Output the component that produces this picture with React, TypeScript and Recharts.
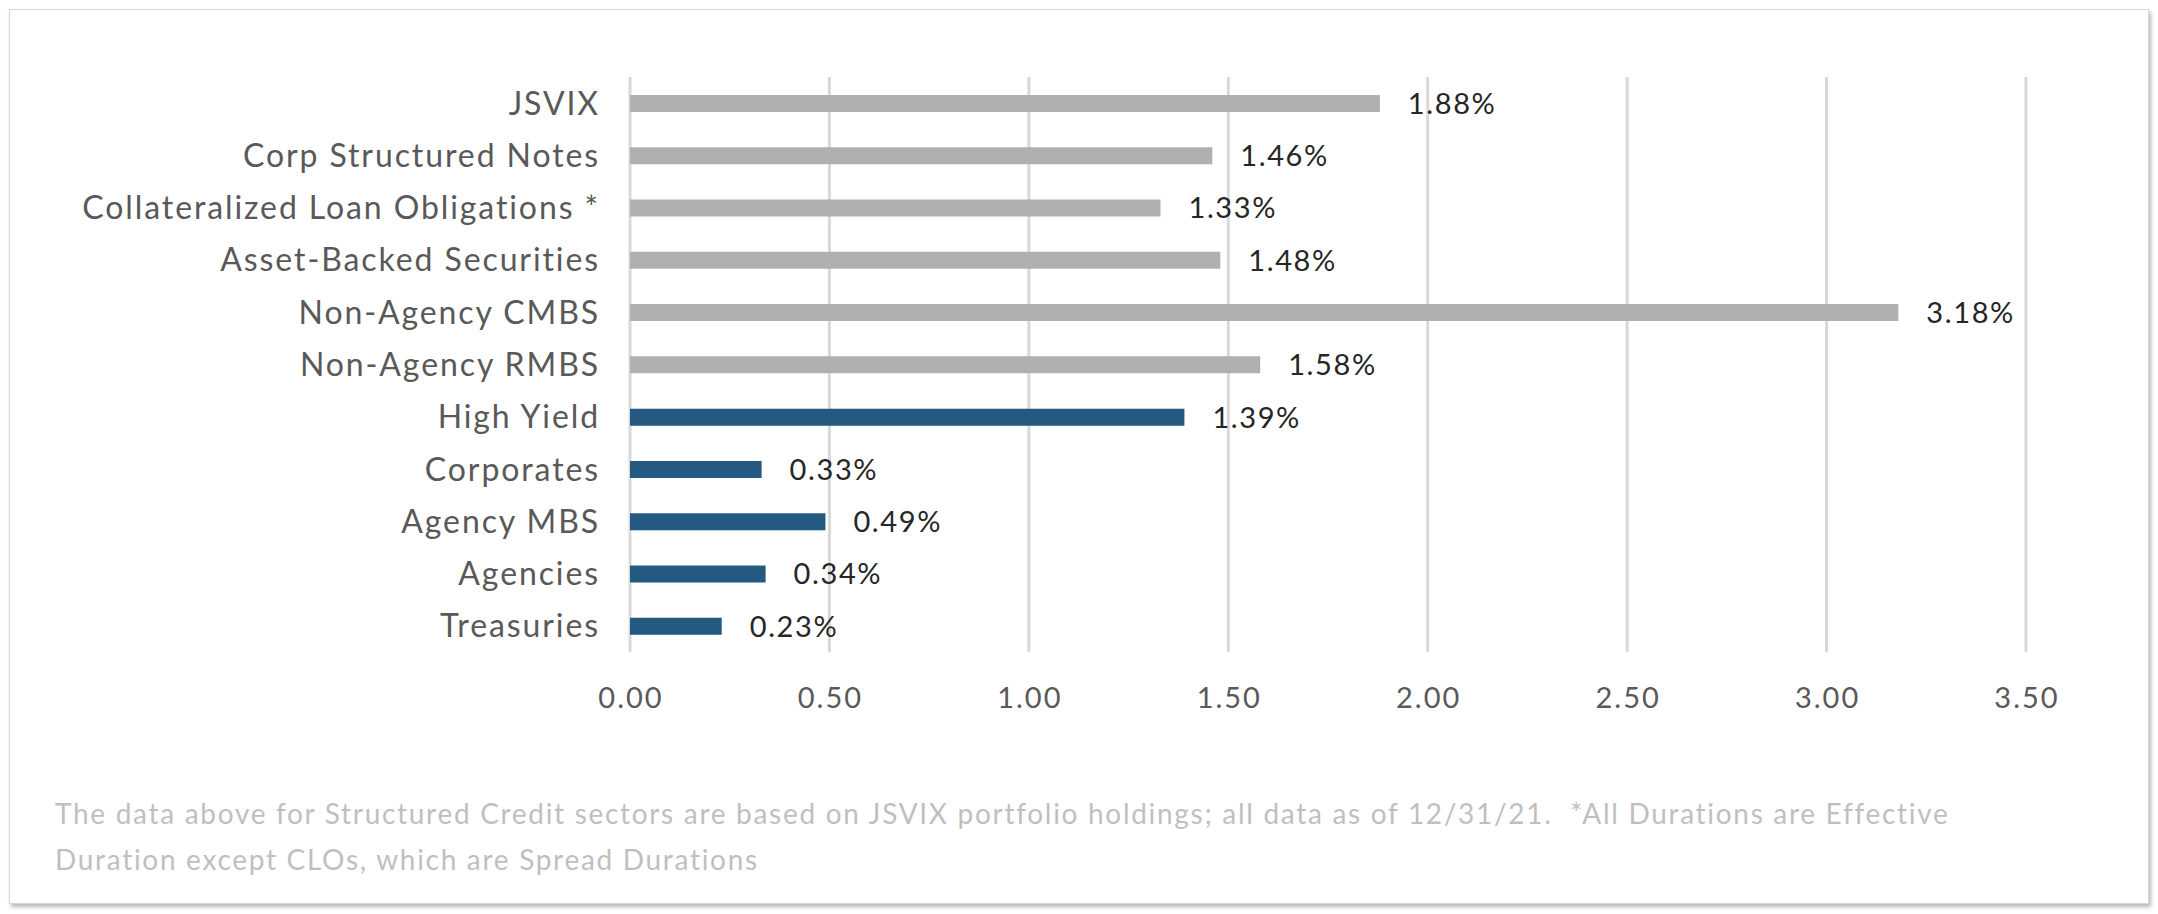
import { BarChart, Bar, XAxis, YAxis, CartesianGrid, LabelList, Cell } from 'recharts';

// Duration by sector, top to bottom as drawn
const sectors = [
  'JSVIX',
  'Corp Structured Notes',
  'Collateralized Loan Obligations *',
  'Asset-Backed Securities',
  'Non-Agency CMBS',
  'Non-Agency RMBS',
  'High Yield',
  'Corporates',
  'Agency MBS',
  'Agencies',
  'Treasuries',
];
const durations = [1.88, 1.46, 1.33, 1.48, 3.18, 1.58, 1.39, 0.33, 0.49, 0.34, 0.23];
// structured credit sectors are grey, traditional ones blue
const groups = [
  'structured', 'structured', 'structured', 'structured', 'structured', 'structured',
  'traditional', 'traditional', 'traditional', 'traditional', 'traditional',
];
const xTicks = [0, 0.5, 1, 1.5, 2, 2.5, 3, 3.5];
const footnote = [
  'The data above for Structured Credit sectors are based on JSVIX portfolio holdings; all data as of 12/31/21.  *All Durations are Effective',
  'Duration except CLOs, which are Spread Durations',
];

const FONT = 'Lato, "Open Sans", sans-serif';
const groupColor: Record<string, string> = {
  structured: '#b0b0b0',
  traditional: '#245982',
};

const data = sectors.map((name, i) => ({ name, value: durations[i], group: groups[i] }));

const CategoryTick = ({ x, y, payload }: any) => (
  <text
    x={x}
    y={y}
    dy="0.36em"
    textAnchor="end"
    fill="#595959"
    fontSize={32}
    letterSpacing={1.9}
    fontFamily={FONT}
  >
    {payload.value}
  </text>
);

const ValueTick = ({ x, y, payload }: any) => (
  <text
    x={x + 1}
    y={y + 56}
    textAnchor="middle"
    fill="#595959"
    fontSize={29}
    letterSpacing={2}
    fontFamily={FONT}
  >
    {Number(payload.value).toFixed(2)}
  </text>
);

const ValueLabel = ({ x, y, width, height, value }: any) => (
  <text
    x={x + width + 28}
    y={y + height / 2}
    dy="0.36em"
    textAnchor="start"
    fill="#262626"
    fontSize={29}
    letterSpacing={1.6}
    fontFamily={FONT}
  >
    {`${Number(value).toFixed(2)}%`}
  </text>
);

export default function App() {
  return (
    <div style={{ position: 'absolute', left: 0, top: 0, width: 2158, height: 914, background: '#fff' }}>
      {/* card frame */}
      <div
        style={{
          position: 'absolute',
          left: 9,
          top: 9,
          width: 2138,
          height: 893,
          border: '1px solid #d6d6d6',
          boxShadow: '2px 3px 4px rgba(0,0,0,0.28)',
          background: '#fff',
        }}
      />

      <div style={{ position: 'absolute', left: 0, top: 0 }}>
        <BarChart
          width={2158}
          height={760}
          data={data}
          layout="vertical"
          margin={{ top: 77, right: 132, bottom: 48, left: 0 }}
          barCategoryGap={0}
        >
          <CartesianGrid horizontal={false} stroke="#d9d9d9" strokeWidth={3} />
          <XAxis
            type="number"
            domain={[0, 3.5]}
            ticks={xTicks}
            axisLine={false}
            tickLine={false}
            tickSize={0}
            tickMargin={0}
            height={60}
            interval={0}
            tick={<ValueTick />}
          />
          <YAxis
            type="category"
            dataKey="name"
            width={630}
            axisLine={false}
            tickLine={false}
            tickSize={0}
            tickMargin={30}
            interval={0}
            tick={<CategoryTick />}
          />
          <Bar dataKey="value" barSize={17} isAnimationActive={false}>
            {data.map((d) => (
              <Cell key={d.name} fill={groupColor[d.group]} />
            ))}
            <LabelList dataKey="value" content={<ValueLabel />} />
          </Bar>
        </BarChart>
      </div>

      {/* footnote */}
      <div
        style={{
          position: 'absolute',
          left: 55,
          top: 790,
          fontFamily: FONT,
          fontSize: 28,
          letterSpacing: 1.7,
          lineHeight: '46px',
          color: '#bfbfbf',
          whiteSpace: 'pre',
        }}
      >
        {footnote.map((line) => (
          <div key={line}>{line}</div>
        ))}
      </div>
    </div>
  );
}
